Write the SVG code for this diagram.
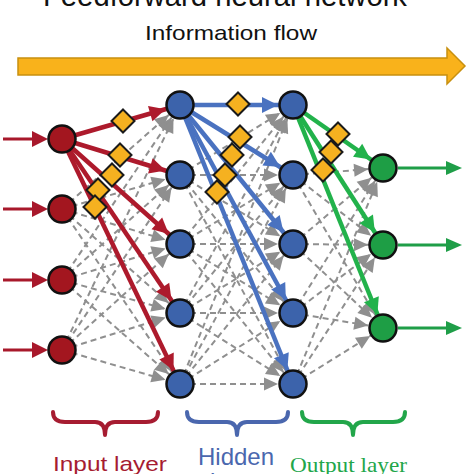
<svg xmlns="http://www.w3.org/2000/svg" xmlns:xlink="http://www.w3.org/1999/xlink" width="474" height="474" viewBox="0 0 474 474">
<style>
.t{font-family:"Liberation Sans",Arial,sans-serif}
.ts{font-family:"Liberation Serif","Times New Roman",serif}
.gd{stroke:#8f8f8f;stroke-width:2;stroke-dasharray:6 4;fill:none;marker-end:url(#mgr)}
.rd{stroke:#ad1a2c;stroke-width:4.5;fill:none;marker-end:url(#mr)}
.bl{stroke:#4a72c0;stroke-width:4.5;fill:none;marker-end:url(#mb)}
.gn{stroke:#22b24b;stroke-width:4.5;fill:none;marker-end:url(#mg)}
.in{stroke:#a8182b;stroke-width:3;fill:none;marker-end:url(#mi)}
.out{stroke:#1f9e48;stroke-width:3;fill:none;marker-end:url(#mo)}
.w{fill:#f5b120;stroke:#1a1a1a;stroke-width:2}
.nr{fill:#a3161f;stroke:#111;stroke-width:2.5}
.nb{fill:#3c63ab;stroke:#111;stroke-width:2.5}
.ng{fill:#1e9e45;stroke:#111;stroke-width:2.5}
.br{fill:none;stroke-width:4;stroke-linecap:round;stroke-linejoin:round}
</style>
<defs>
<marker id="mr" viewBox="0 0 16 16" refX="31" refY="8" markerWidth="16" markerHeight="16" markerUnits="userSpaceOnUse" orient="auto" overflow="visible"><path d="M0,0 L16,8 L0,16 z" fill="#ad1a2c"/></marker>
<marker id="mb" viewBox="0 0 16 16" refX="31" refY="8" markerWidth="16" markerHeight="16" markerUnits="userSpaceOnUse" orient="auto" overflow="visible"><path d="M0,0 L16,8 L0,16 z" fill="#4a72c0"/></marker>
<marker id="mg" viewBox="0 0 16 16" refX="31" refY="8" markerWidth="16" markerHeight="16" markerUnits="userSpaceOnUse" orient="auto" overflow="visible"><path d="M0,0 L16,8 L0,16 z" fill="#22b24b"/></marker>
<marker id="mgr" viewBox="0 0 14 13" refX="29" refY="6.5" markerWidth="14" markerHeight="13" markerUnits="userSpaceOnUse" orient="auto" overflow="visible"><path d="M0,0 L14,6.5 L0,13 z" fill="#8f8f8f"/></marker>
<marker id="mi" viewBox="0 0 16 16" refX="8" refY="8" markerWidth="16" markerHeight="16" markerUnits="userSpaceOnUse" orient="auto" overflow="visible"><path d="M0,0 L16,8 L0,16 z" fill="#a8182b"/></marker>
<marker id="mo" viewBox="0 0 16 14" refX="8" refY="7" markerWidth="16" markerHeight="14" markerUnits="userSpaceOnUse" orient="auto" overflow="visible"><path d="M0,0 L16,7 L0,14 z" fill="#1f9e48"/></marker>
<path id="dia" d="M0,-11.5 L11.5,0 L0,11.5 L-11.5,0 z"/>
</defs>
<rect width="474" height="474" fill="#fff"/>

<g id="titles">
<text class="t" x="43" y="6" font-size="29" textLength="364" lengthAdjust="spacingAndGlyphs" fill="#111">Feedforward neural network</text>
<text class="t" x="145" y="40" font-size="21" textLength="172" lengthAdjust="spacingAndGlyphs" fill="#111">Information flow</text>
</g>

<g id="flow-arrow">
<path d="M18,58 L447,58 L447,48 L465,66 L447,84 L447,75 L18,75 z" fill="#f9b21b" stroke="#c8900f" stroke-width="1.5"/>
</g>

<g id="connectors">
<path class="gd" d="M62,209 L180,105"/><path class="gd" d="M62,209 L180,175"/><path class="gd" d="M62,209 L180,244"/><path class="gd" d="M62,209 L180,313"/><path class="gd" d="M62,209 L180,384"/>
<path class="gd" d="M62,280 L180,105"/><path class="gd" d="M62,280 L180,175"/><path class="gd" d="M62,280 L180,244"/><path class="gd" d="M62,280 L180,313"/><path class="gd" d="M62,280 L180,384"/>
<path class="gd" d="M62,350 L180,105"/><path class="gd" d="M62,350 L180,175"/><path class="gd" d="M62,350 L180,244"/><path class="gd" d="M62,350 L180,313"/><path class="gd" d="M62,350 L180,384"/>
<path class="gd" d="M180,175 L293,105"/><path class="gd" d="M180,175 L293,175"/><path class="gd" d="M180,175 L293,244"/><path class="gd" d="M180,175 L293,313"/><path class="gd" d="M180,175 L293,384"/>
<path class="gd" d="M180,244 L293,105"/><path class="gd" d="M180,244 L293,175"/><path class="gd" d="M180,244 L293,244"/><path class="gd" d="M180,244 L293,313"/><path class="gd" d="M180,244 L293,384"/>
<path class="gd" d="M180,313 L293,105"/><path class="gd" d="M180,313 L293,175"/><path class="gd" d="M180,313 L293,244"/><path class="gd" d="M180,313 L293,313"/><path class="gd" d="M180,313 L293,384"/>
<path class="gd" d="M180,384 L293,105"/><path class="gd" d="M180,384 L293,175"/><path class="gd" d="M180,384 L293,244"/><path class="gd" d="M180,384 L293,313"/><path class="gd" d="M180,384 L293,384"/>
<path class="gd" d="M293,175 L383,168"/><path class="gd" d="M293,175 L383,245"/><path class="gd" d="M293,175 L383,328"/>
<path class="gd" d="M293,244 L383,168"/><path class="gd" d="M293,244 L383,245"/><path class="gd" d="M293,244 L383,328"/>
<path class="gd" d="M293,313 L383,168"/><path class="gd" d="M293,313 L383,245"/><path class="gd" d="M293,313 L383,328"/>
<path class="gd" d="M293,384 L383,168"/><path class="gd" d="M293,384 L383,245"/><path class="gd" d="M293,384 L383,328"/>
<path class="rd" d="M62,139 L180,105"/><path class="rd" d="M62,139 L180,175"/><path class="rd" d="M62,139 L180,244"/><path class="rd" d="M62,139 L180,313"/><path class="rd" d="M62,139 L180,384"/>
<path class="bl" d="M180,105 L293,105"/><path class="bl" d="M180,105 L293,175"/><path class="bl" d="M180,105 L293,244"/><path class="bl" d="M180,105 L293,313"/><path class="bl" d="M180,105 L293,384"/>
<path class="gn" d="M293,105 L383,168"/><path class="gn" d="M293,105 L383,245"/><path class="gn" d="M293,105 L383,328"/>
<path class="in" d="M3,139 L40,139"/><path class="in" d="M3,209 L40,209"/><path class="in" d="M3,280 L40,280"/><path class="in" d="M3,350 L40,350"/>
<path class="out" d="M398,168 L454,168"/><path class="out" d="M398,245 L454,245"/><path class="out" d="M398,328 L454,328"/>
</g>

<g id="weights">
<use xlink:href="#dia" class="w" x="123" y="121"/>
<use xlink:href="#dia" class="w" x="120" y="155"/>
<use xlink:href="#dia" class="w" x="112" y="175"/>
<use xlink:href="#dia" class="w" x="98" y="190"/>
<use xlink:href="#dia" class="w" x="95" y="207"/>
<use xlink:href="#dia" class="w" x="238" y="104"/>
<use xlink:href="#dia" class="w" x="240" y="137"/>
<use xlink:href="#dia" class="w" x="232" y="155"/>
<use xlink:href="#dia" class="w" x="225" y="175"/>
<use xlink:href="#dia" class="w" x="217" y="192"/>
<use xlink:href="#dia" class="w" x="338" y="134"/>
<use xlink:href="#dia" class="w" x="331" y="152"/>
<use xlink:href="#dia" class="w" x="323" y="170"/>
</g>

<g id="input-1"><circle class="nr" cx="62" cy="139" r="13.5"/></g>
<g id="input-2"><circle class="nr" cx="62" cy="209" r="13.5"/></g>
<g id="input-3"><circle class="nr" cx="62" cy="280" r="13.5"/></g>
<g id="input-4"><circle class="nr" cx="62" cy="350" r="13.5"/></g>
<g id="hidden1-1"><circle class="nb" cx="180" cy="105" r="13.5"/></g>
<g id="hidden1-2"><circle class="nb" cx="180" cy="175" r="13.5"/></g>
<g id="hidden1-3"><circle class="nb" cx="180" cy="244" r="13.5"/></g>
<g id="hidden1-4"><circle class="nb" cx="180" cy="313" r="13.5"/></g>
<g id="hidden1-5"><circle class="nb" cx="180" cy="384" r="13.5"/></g>
<g id="hidden2-1"><circle class="nb" cx="293" cy="105" r="13.5"/></g>
<g id="hidden2-2"><circle class="nb" cx="293" cy="175" r="13.5"/></g>
<g id="hidden2-3"><circle class="nb" cx="293" cy="244" r="13.5"/></g>
<g id="hidden2-4"><circle class="nb" cx="293" cy="313" r="13.5"/></g>
<g id="hidden2-5"><circle class="nb" cx="293" cy="384" r="13.5"/></g>
<g id="output-1"><circle class="ng" cx="383" cy="168" r="13.5"/></g>
<g id="output-2"><circle class="ng" cx="383" cy="245" r="13.5"/></g>
<g id="output-3"><circle class="ng" cx="383" cy="328" r="13.5"/></g>

<g id="input-label">
<path class="br" stroke="#a61c31" d="M53,412 Q53,422 65,422 L95,422 Q105,422 105,435 Q105,422 115,422 L146,422 Q158,422 158,412"/>
<text class="t" x="53" y="471" font-size="21" textLength="114" lengthAdjust="spacingAndGlyphs" fill="#a61c31">Input layer</text>
</g>
<g id="hidden-label">
<path class="br" stroke="#4a67ae" d="M187,412 Q187,422 199,422 L227,422 Q237,422 237,435 Q237,422 247,422 L276,422 Q288,422 288,412"/>
<text class="t" x="236" y="465" font-size="24" text-anchor="middle" fill="#4a67ae">Hidden</text>
<text class="t" x="236" y="490" font-size="24" text-anchor="middle" fill="#4a67ae">layer</text>
</g>
<g id="output-label">
<path class="br" stroke="#22a64a" d="M302,412 Q302,422 314,422 L343,422 Q353,422 353,435 Q353,422 363,422 L393,422 Q405,422 405,412"/>
<text class="ts" x="290" y="472" font-size="22" textLength="117" lengthAdjust="spacingAndGlyphs" fill="#22a64a">Output layer</text>
</g>
</svg>
